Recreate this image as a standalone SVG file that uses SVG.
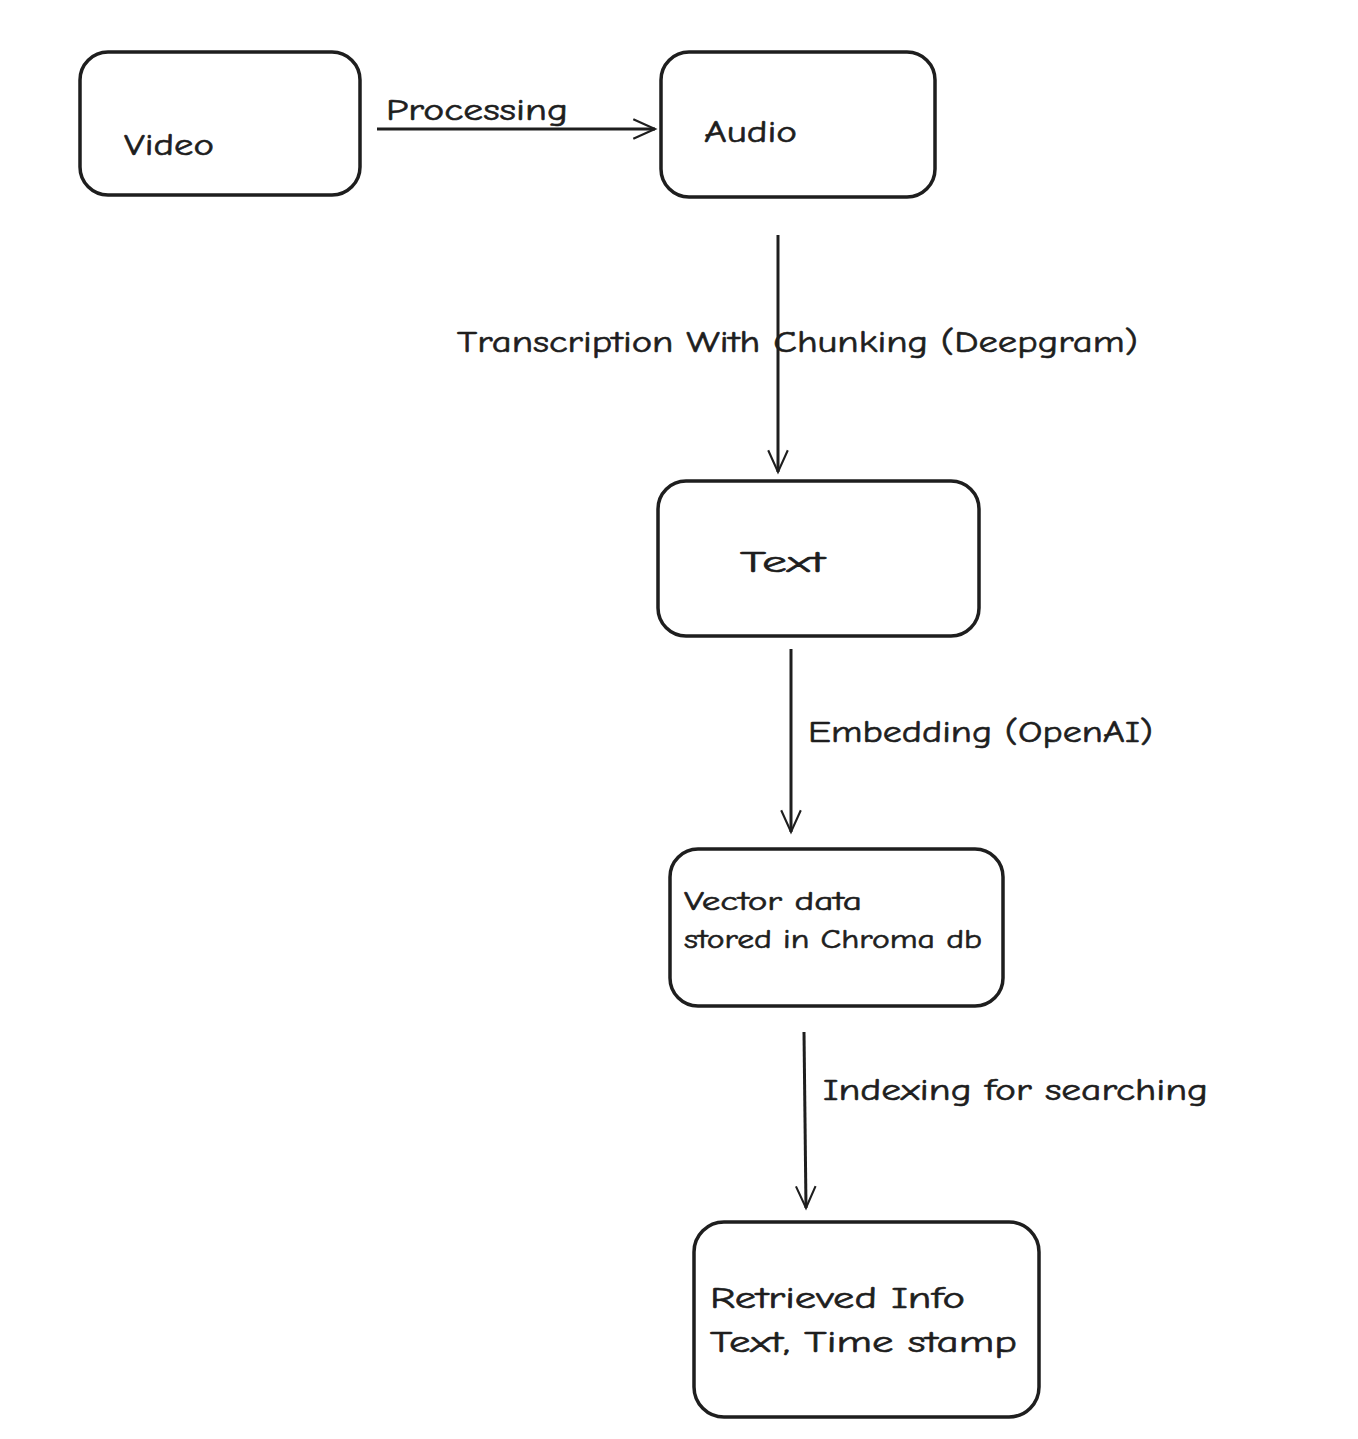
<svg xmlns="http://www.w3.org/2000/svg" width="1358" height="1439" viewBox="0 0 1358 1439">
<style>
.n{fill:#fff;stroke:#1e1e1e;stroke-width:3.5}
.t{font-family:"Comic Neue","Liberation Sans",sans-serif;fill:#1e1e1e;font-size:30px;stroke:#1e1e1e;stroke-width:0.6}
.s{font-size:26px}
.c{stroke:#1e1e1e;stroke-width:3;fill:none;marker-end:url(#a)}
</style>
<defs><marker id="a" viewBox="0 0 20 20" refX="19" refY="10" markerWidth="14" markerHeight="14" markerUnits="userSpaceOnUse" orient="auto" overflow="visible"><path d="M-12,-4 L19,10 L-12,24" fill="none" stroke="#1e1e1e" stroke-width="3"/></marker></defs>
<rect width="1358" height="1439" fill="#fff"/>
<g id="video"><rect class="n" x="80" y="52" width="280" height="143" rx="28"/><text class="t" x="124" y="155" textLength="90" lengthAdjust="spacingAndGlyphs">Video</text></g>
<g id="audio"><rect class="n" x="661" y="52" width="274" height="145" rx="28"/><text class="t" x="704" y="142" textLength="93" lengthAdjust="spacingAndGlyphs">Audio</text></g>
<g id="text"><rect class="n" x="658" y="481" width="321" height="155" rx="28"/><text class="t" x="740" y="572" textLength="85" lengthAdjust="spacingAndGlyphs">Text</text></g>
<g id="vector"><rect class="n" x="670" y="849" width="333" height="157" rx="28"/><text class="t s" x="684" y="910" textLength="178" lengthAdjust="spacingAndGlyphs">Vector data</text><text class="t s" x="684" y="948" textLength="298" lengthAdjust="spacingAndGlyphs">stored in Chroma db</text></g>
<g id="retrieved"><rect class="n" x="694" y="1222" width="345" height="195" rx="30"/><text class="t" x="710" y="1308" textLength="255" lengthAdjust="spacingAndGlyphs">Retrieved Info</text><text class="t" x="710" y="1352" textLength="307" lengthAdjust="spacingAndGlyphs">Text, Time stamp</text></g>
<g id="connectors">
<path class="c" d="M377,129 L655,129"/>
<text class="t" x="386" y="120" textLength="182" lengthAdjust="spacingAndGlyphs">Processing</text>
<path class="c" d="M778,235 L778,472"/>
<text class="t" x="457" y="352" textLength="681" lengthAdjust="spacingAndGlyphs">Transcription With Chunking (Deepgram)</text>
<path class="c" d="M791,649 L791,832"/>
<text class="t" x="808" y="742" textLength="345" lengthAdjust="spacingAndGlyphs">Embedding (OpenAI)</text>
<path class="c" d="M804,1032 L806,1208"/>
<text class="t" x="823" y="1100" textLength="385" lengthAdjust="spacingAndGlyphs">Indexing for searching</text>
</g>
</svg>
